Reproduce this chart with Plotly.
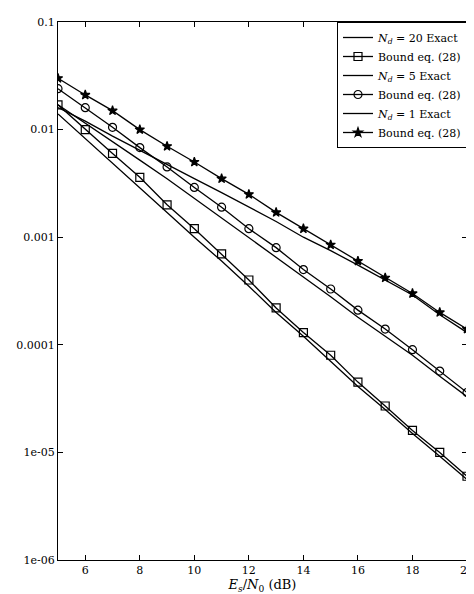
import plotly.graph_objects as go

snr = list(range(5, 21))
nd20_bound = [0.017,0.01,0.006,0.0036,0.002,0.0012,0.0007,0.0004,0.00022,0.00013,0.00008,0.000045,0.000027,0.000016,0.00001,0.000006]
nd20_exact = [0.014,0.0083,0.0049,0.0029,0.0017,0.001,0.0006,0.00035,0.0002,0.00012,0.00007,0.000041,0.000025,0.000015,0.0000092,0.0000056]
nd5_bound = [0.024,0.016,0.0105,0.0068,0.0045,0.0029,0.0019,0.0012,0.0008,0.0005,0.00033,0.00021,0.00014,0.00009,0.000057,0.000036]
nd5_exact = [0.017,0.0115,0.0078,0.0052,0.0035,0.0023,0.0015,0.001,0.00066,0.00043,0.00028,0.00018,0.00012,0.00008,0.000051,0.000033]
nd1_bound = [0.03,0.021,0.015,0.01,0.007,0.005,0.0035,0.0025,0.0017,0.0012,0.00085,0.0006,0.00042,0.0003,0.0002,0.00014]
nd1_exact = [0.016,0.012,0.0087,0.0064,0.0047,0.0035,0.0026,0.0019,0.0014,0.001,0.00075,0.00055,0.0004,0.00029,0.00019,0.00013]

fig = go.Figure()
def exact(y, name):
    fig.add_trace(go.Scatter(x=snr, y=y, mode="lines", name=name, line=dict(color="black", width=1.3)))
def bound(y, sym, size):
    fig.add_trace(go.Scatter(x=snr, y=y, mode="lines+markers", name="Bound eq. (28)",
        line=dict(color="black", width=1.3),
        marker=dict(symbol=sym, size=size, color="black", line=dict(color="black", width=1.2))))
exact(nd20_exact, "<i>N<sub>d</sub></i> = 20 Exact")
bound(nd20_bound, "square-open", 8)
exact(nd5_exact, "<i>N<sub>d</sub></i> = 5 Exact")
bound(nd5_bound, "circle-open", 8)
exact(nd1_exact, "<i>N<sub>d</sub></i> = 1 Exact")
bound(nd1_bound, "star", 7)

ax = dict(showgrid=False, zeroline=False, showline=True, linecolor="black", mirror="ticks",
          ticks="inside", ticklen=5, tickcolor="black")
fig.update_layout(
    width=474, height=594, plot_bgcolor="white", paper_bgcolor="white",
    margin=dict(l=45, r=12, t=8, b=42),
    font=dict(family="DejaVu Serif", size=11, color="black"),
    xaxis=dict(range=[5, 20], tickvals=[6,8,10,12,14,16,18,20],
               title=dict(text="<i>E<sub>s</sub></i>/<i>N</i><sub>0</sub> (dB)", standoff=2), **ax),
    yaxis=dict(type="log", range=[-6, -1], tickvals=[1e-6,1e-5,1e-4,1e-3,1e-2,1e-1],
               ticktext=["1e-06","1e-05","0.0001","0.001","0.01","0.1"], **ax),
    legend=dict(x=1, y=1, xanchor="right", yanchor="top", bgcolor="white",
                bordercolor="black", borderwidth=1, font=dict(size=11), tracegroupgap=0),
)
fig.write_html("out.html")
